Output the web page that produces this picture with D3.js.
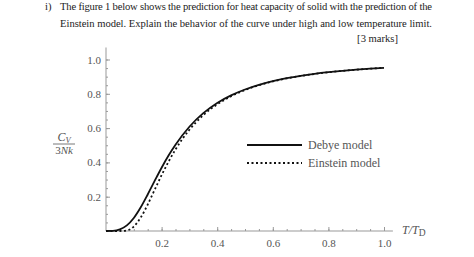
<!DOCTYPE html>
<html>
<head>
<meta charset="utf-8">
<script src="https://cdn.jsdelivr.net/npm/d3@7"></script>
<style>
  html, body { margin: 0; padding: 0; background: #fff; }
  svg { display: block; }
  .axis .domain, .axis line { stroke: #999; }
</style>
</head>
<body>
<svg id="chart"></svg>
<script>
const SERIF = "'Liberation Serif', 'DejaVu Serif', serif";

// T / T_D
const tRatio = [0, 0.025, 0.05, 0.075, 0.1, 0.125, 0.15, 0.175, 0.2, 0.225, 0.25, 0.3, 0.35,
  0.4, 0.45, 0.5, 0.55, 0.6, 0.65, 0.7, 0.75, 0.8, 0.85, 0.9, 0.95, 1.0];
// C_V / 3Nk, Debye model
const debyeCv = [0, 0.0012, 0.0097, 0.0329, 0.0758, 0.1382, 0.213, 0.292, 0.369, 0.44, 0.503,
  0.608, 0.687, 0.747, 0.791, 0.825, 0.8525, 0.8737, 0.891, 0.905, 0.9165, 0.926, 0.9341,
  0.9409, 0.9467, 0.9517];
// C_V / 3Nk, Einstein model
const einsteinCv = [0, 0, 0, 0.0035, 0.026, 0.0785, 0.1543, 0.24, 0.3254, 0.4043, 0.4753,
  0.5902, 0.6755, 0.7384, 0.7856, 0.8218, 0.8501, 0.8719, 0.8896, 0.9039, 0.9156, 0.9254,
  0.9336, 0.9405, 0.9464, 0.9515];

const xTicks = [0.2, 0.4, 0.6, 0.8, 1.0];
const yTicks = [0.2, 0.4, 0.6, 0.8, 1.0];
const minorTicks = d3.range(1, 21).map((i) => i * 0.05);

const legendLabels = ["Debye model", "Einstein model"];
const headerLines = [
  "The figure 1 below shows the prediction for heat capacity of solid with the prediction of the",
  "Einstein model. Explain the behavior of the curve under high and low temperature limit.",
];

const width = 474;
const height = 257;

const svg = d3.select("#chart").attr("width", width).attr("height", height);

// header question text
const header = svg.append("g").attr("font-family", SERIF).attr("fill", "#222").attr("font-size", 10.6);
header.append("text").attr("x", 45).attr("y", 10).text("i)");
headerLines.forEach((line, i) => {
  header.append("text")
    .attr("x", 60)
    .attr("y", 10 + i * 16.5)
    .attr("textLength", 372)
    .attr("lengthAdjust", "spacing")
    .text(line);
});
header.append("text").attr("x", 398).attr("y", 41.5).attr("text-anchor", "end").text("[3 marks]");

// scales
const x = d3.scaleLinear().domain([0, 1]).range([106, 384]);
const y = d3.scaleLinear().domain([0, 1]).range([231, 59.5]);

const styleAxis = (g) => {
  g.select(".domain").remove();
  g.attr("font-family", SERIF).attr("font-size", 11);
  g.selectAll("text").attr("fill", "#555");
};

// x axis
const xAxis = svg.append("g").attr("class", "axis").attr("transform", `translate(0,${y(0)})`);
xAxis.call(d3.axisBottom(x).tickValues(minorTicks).tickSize(-2).tickFormat(""))
  .call(styleAxis);
xAxis.append("g")
  .call(d3.axisBottom(x).tickValues(xTicks).tickSize(-4).tickPadding(8).tickFormat(d3.format(".1f")))
  .call(styleAxis);
xAxis.append("line").attr("x1", x(0)).attr("x2", x(1.032)).attr("stroke", "#999");

// y axis
const yAxis = svg.append("g").attr("class", "axis").attr("transform", `translate(${x(0)},0)`);
yAxis.call(d3.axisLeft(y).tickValues(minorTicks).tickSize(-2).tickFormat(""))
  .call(styleAxis);
yAxis.append("g")
  .call(d3.axisLeft(y).tickValues(yTicks).tickSize(-4).tickPadding(5).tickFormat(d3.format(".1f")))
  .call(styleAxis);
yAxis.append("line").attr("y1", y(0)).attr("y2", y(1.07)).attr("stroke", "#999");

// axis labels
svg.append("text")
  .attr("font-family", SERIF)
  .attr("x", 402).attr("y", 234)
  .attr("font-size", 12).attr("fill", "#555").attr("font-style", "italic")
  .html('T/T<tspan font-style="normal" font-size="9.5" dy="2">D</tspan>');

const yLab = svg.append("g").attr("font-family", SERIF).attr("fill", "#555");
yLab.append("text")
  .attr("x", 64).attr("y", 141).attr("text-anchor", "middle")
  .attr("font-size", 12).attr("font-style", "italic")
  .html('C<tspan font-size="8.5" dy="2">V</tspan>');
yLab.append("line").attr("x1", 53).attr("x2", 75).attr("y1", 144).attr("y2", 144)
  .attr("stroke", "#555").attr("stroke-width", 0.8);
yLab.append("text")
  .attr("x", 64).attr("y", 154).attr("text-anchor", "middle")
  .attr("font-size", 11)
  .html('3<tspan font-style="italic">Nk</tspan>');

// curves
const line = d3.line().curve(d3.curveMonotoneX);

svg.append("path")
  .datum(tRatio.map((t, i) => [x(t), y(einsteinCv[i])]))
  .attr("d", line)
  .attr("fill", "none")
  .attr("stroke", "#111")
  .attr("stroke-width", 1.8)
  .attr("stroke-dasharray", "2,2.5");

svg.append("path")
  .datum(tRatio.map((t, i) => [x(t), y(debyeCv[i])]))
  .attr("d", line)
  .attr("fill", "none")
  .attr("stroke", "#111")
  .attr("stroke-width", 1.8);

// legend
const legend = svg.append("g").attr("font-family", SERIF);
legendLabels.forEach((label, i) => {
  const ly = 145 + i * 18;
  legend.append("line")
    .attr("x1", 247).attr("x2", 302).attr("y1", ly).attr("y2", ly)
    .attr("stroke", "#111").attr("stroke-width", 1.8)
    .attr("stroke-dasharray", i === 0 ? null : "2,2.5");
  legend.append("text")
    .attr("x", 308).attr("y", ly + 3.5)
    .attr("font-size", 12).attr("fill", "#555")
    .text(label);
});
</script>
</body>
</html>
